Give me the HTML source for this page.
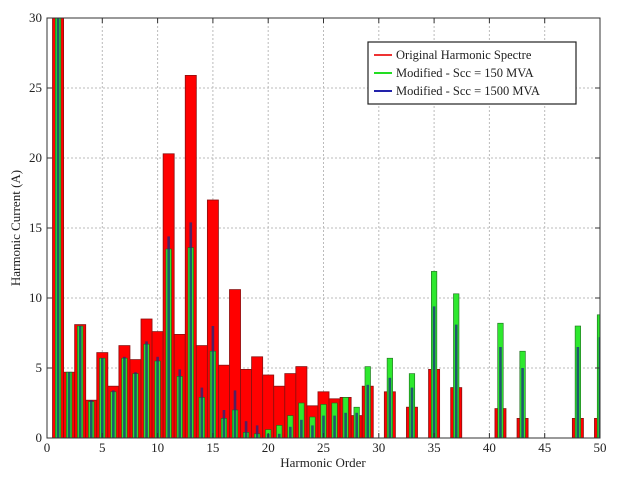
<!DOCTYPE html>
<html><head><style>body{margin:0;background:#fff}</style></head><body>
<svg width="622" height="476" xmlns="http://www.w3.org/2000/svg" font-family="Liberation Serif, serif">
<defs><clipPath id="c"><rect x="47" y="18" width="553" height="420"/></clipPath></defs>
<rect x="47" y="18" width="553" height="420" fill="#fff"/>
<g id="grid" stroke="#bbb" stroke-dasharray="2,2" stroke-width="1"></g>
<g id="bars" clip-path="url(#c)"></g>
<rect x="47" y="18" width="553" height="420" fill="none" stroke="#333" stroke-width="1"/>
<g id="ticks" stroke="#333"></g>
<g id="labels" font-size="13" fill="#222"></g>
<text x="323" y="467" font-size="13" text-anchor="middle" fill="#222">Harmonic Order</text>
<text transform="translate(20,228) rotate(-90)" font-size="13" text-anchor="middle" fill="#222">Harmonic Current (A)</text>
<g>
<rect x="368" y="42" width="208" height="62" fill="#fff" stroke="#222" stroke-width="1.2"/>
<line x1="374" y1="55" x2="392" y2="55" stroke="#e33" stroke-width="2"/>
<line x1="374" y1="73" x2="392" y2="73" stroke="#2d2" stroke-width="2"/>
<line x1="374" y1="91" x2="392" y2="91" stroke="#22a" stroke-width="2"/>
<text x="396" y="59" font-size="12.5" fill="#222">Original Harmonic Spectre</text>
<text x="396" y="77" font-size="12.5" fill="#222">Modified - Scc = 150 MVA</text>
<text x="396" y="95" font-size="12.5" fill="#222">Modified - Scc = 1500 MVA</text>
</g>
</svg>
<script>
const X0=47,XS=553/50,Y0=438,YS=420/30,ns="http://www.w3.org/2000/svg";
function el(p,t,a,txt){const e=document.createElementNS(ns,t);for(const k in a)e.setAttribute(k,a[k]);if(txt!==undefined)e.textContent=txt;document.getElementById(p).appendChild(e);}
for(let i=5;i<50;i+=5)el('grid','line',{x1:X0+i*XS,x2:X0+i*XS,y1:18,y2:438});
for(let j=5;j<30;j+=5)el('grid','line',{x1:47,x2:600,y1:Y0-j*YS,y2:Y0-j*YS});
for(let i=0;i<=50;i+=5){el('ticks','line',{x1:X0+i*XS,x2:X0+i*XS,y1:438,y2:433});el('ticks','line',{x1:X0+i*XS,x2:X0+i*XS,y1:18,y2:23});el('labels','text',{x:X0+i*XS,y:452,'text-anchor':'middle'},i);}
for(let j=0;j<=30;j+=5){el('ticks','line',{x1:47,x2:52,y1:Y0-j*YS,y2:Y0-j*YS});el('ticks','line',{x1:600,x2:595,y1:Y0-j*YS,y2:Y0-j*YS});el('labels','text',{x:42,y:Y0-j*YS+4,'text-anchor':'end'},j);}
const d=[[1,35,35,35],[2,4.7,4.7,4.7],[3,8.1,8.0,8.0],[4,2.7,2.6,2.7],[5,6.1,5.7,5.7],[6,3.7,3.3,3.4],[7,6.6,5.7,5.8],[8,5.6,4.6,4.7],[9,8.5,6.7,6.9],[10,7.6,5.5,5.8],[11,20.3,13.5,14.4],[12,7.4,4.4,4.9],[13,25.9,13.6,15.4],[14,6.6,2.9,3.6],[15,17.0,6.2,8.0],[16,5.2,1.4,2.0],[17,10.6,2.0,3.4],[18,4.9,0.4,1.2],[19,5.8,0.3,0.9],[20,4.5,0.6,0.3],[21,3.7,0.9,0.3],[22,4.6,1.6,0.8],[23,5.1,2.5,1.3],[24,2.3,1.5,0.9],[25,3.3,2.4,1.6],[26,2.8,2.5,1.6],[27,2.9,2.9,1.8],[28,1.6,2.2,1.8],[29,3.7,5.1,3.8],[31,3.3,5.7,4.3],[33,2.2,4.6,3.6],[35,4.9,11.9,9.4],[37,3.6,10.3,8.1],[41,2.1,8.2,6.5],[43,1.4,6.2,5.0],[48,1.4,8.0,6.5],[50,1.4,8.8,7.2]];
for(const [h,r] of d)el('bars','rect',{x:X0+(h-0.5)*XS,y:Y0-r*YS,width:XS,height:r*YS,fill:'#f00',stroke:'#8a1010','stroke-width':0.8});
for(const [h,r,g,b] of d){el('bars','rect',{x:X0+(h-0.25)*XS,y:Y0-g*YS,width:XS*0.5,height:g*YS,fill:'#2ee82e',stroke:'#1a6a1a','stroke-width':0.6});
el('bars','rect',{x:X0+h*XS-1.3,y:Y0-b*YS,width:2.6,height:b*YS,fill:'#1a2a80','fill-opacity':0.75});}
</script>
</body></html>
